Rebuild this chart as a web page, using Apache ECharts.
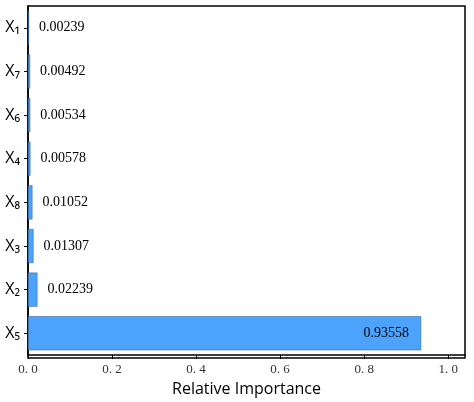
<!DOCTYPE html><html><head><meta charset="utf-8"><script src="https://cdn.jsdelivr.net/npm/echarts@6/dist/echarts.min.js"></script></head><body style="margin:0"><div id="c" style="width:474px;height:402px"></div><script>
const categories=['X₅','X₂','X₃','X₈','X₄','X₆','X₇','X₁'];
const values=[0.93558,0.02239,0.01307,0.01052,0.00578,0.00534,0.00492,0.00239];
const labels=['0.93558','0.02239','0.01307','0.01052','0.00578','0.00534','0.00492','0.00239'];
const ch=echarts.init(document.getElementById('c'));
ch.setOption({animation:false,
grid:{left:28,right:9,top:6,bottom:44},
xAxis:{type:'value',min:0,max:1.04,interval:0.2,
 axisLine:{show:true,onZero:false,lineStyle:{color:'#000',width:1.5}},axisTick:{show:true,length:4,lineStyle:{color:'#000'}},splitLine:{show:false},
 axisLabel:{showMaxLabel:false,color:'#333',fontFamily:'Liberation Serif',fontSize:13,formatter:v=>v.toFixed(1).replace('.','. ')},
 name:'Relative Importance',nameLocation:'middle',nameGap:24,nameTextStyle:{color:'#000',fontSize:16,fontFamily:'Open Sans'}},
yAxis:{type:'category',data:categories,axisLine:{lineStyle:{color:'#000',width:1.5}},axisTick:{show:true,alignWithLabel:true,length:4,lineStyle:{color:'#000'}},
 axisLabel:{color:'#000',fontSize:16,fontFamily:'Open Sans',margin:8}},
series:[{type:'bar',barWidth:'78%',data:values.map((v,i)=>({value:v,label:{show:true,position:i===0?'insideRight':'right',distance:i===0?12:10,formatter:labels[i],color:'#000',fontFamily:'Liberation Serif',fontSize:14}})),
 itemStyle:{color:'#4da3fb',borderColor:'#2a5d8f',borderWidth:0.5}}],
graphic:[{type:'rect',shape:{x:28,y:6,width:437,height:352},style:{fill:'none',stroke:'#000',lineWidth:1.5}}]
});
</script></body></html>
